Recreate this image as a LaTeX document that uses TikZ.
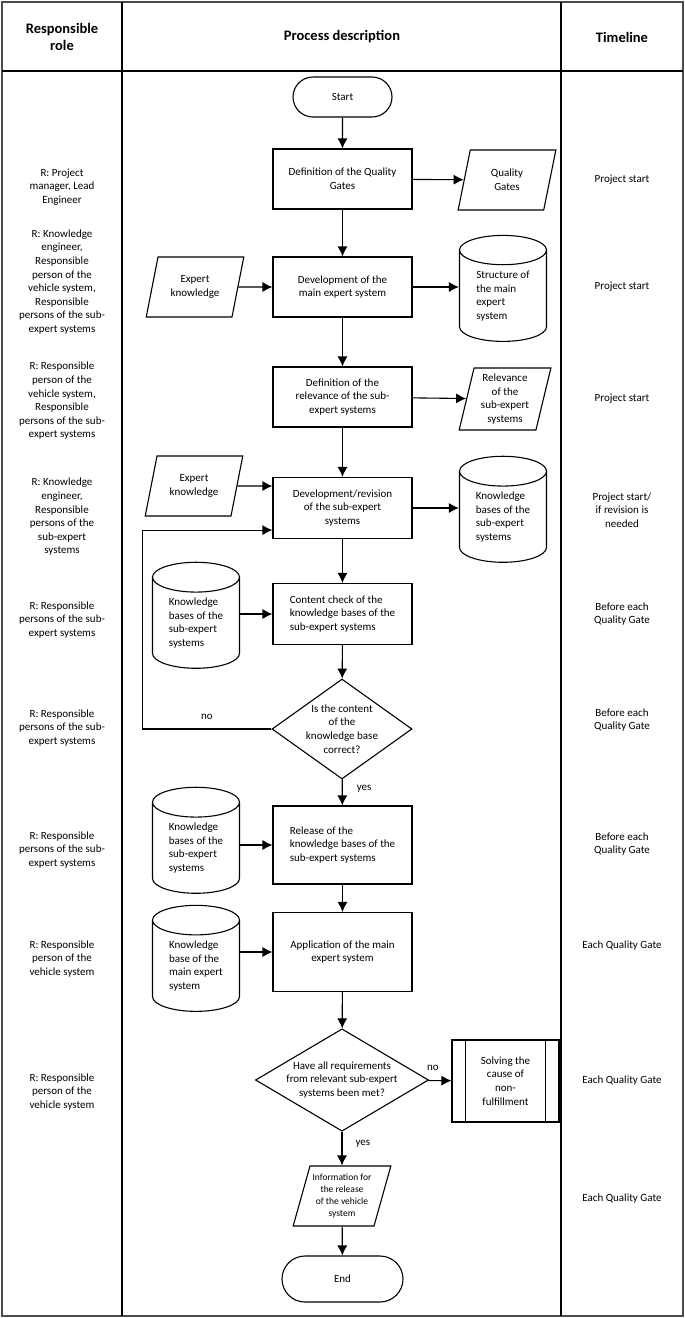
\documentclass[tikz,border=0pt]{standalone}
\usepackage{fontspec}
\setmainfont{Carlito}
\usetikzlibrary{positioning, calc, arrows.meta, shapes.geometric, shapes.misc}

\begin{document}
\begin{tikzpicture}
	[   x=1pt, y=-1pt, line width=1.1pt,
		every node/.style={font=\fontsize{11}{13.6}\selectfont, inner sep=0pt},
		head/.style={font=\bfseries\fontsize{14.5}{17}\selectfont, align=center},
		lane/.style={align=center},
		pbox/.style={draw, rectangle, minimum width=139pt, minimum height=60pt, align=center},
		term/.style={draw, rounded rectangle},
		dataio/.style={draw, trapezium, trapezium stretches=true, trapezium left angle=#1, trapezium right angle={180-#1}, minimum width=98pt, minimum height=60pt, align=center},
		store/.style={draw, cylinder, shape border rotate=90, aspect=0.55, minimum width=87pt, minimum height=106pt, align=left},
		decision/.style={draw, diamond, aspect=1.4, minimum width=140pt, minimum height=100pt, align=center},
		subproc/.style={draw, rectangle, minimum width=107pt, minimum height=82pt, align=center,
			path picture={
				\draw ([xshift=13.5pt]path picture bounding box.north west) -- ([xshift=13.5pt]path picture bounding box.south west);
				\draw ([xshift=-13.5pt]path picture bounding box.north east) -- ([xshift=-13.5pt]path picture bounding box.south east);
			}},
	]
	\tikzset{normal arrow/.style={draw, -{Latex[length=10pt, width=10pt]}}}
	\useasboundingbox (0,0) rectangle (685,1318);

	% table
	\draw[line width=1.6pt, black!70] (2,2) rectangle (683,1316);
	\draw (122,2) -- (122,1316);
	\draw (561,2) -- (561,1316);
	\draw (2,71) -- (683,71);

	\node[head] (h-1) at (62,37) {Responsible\\role};
	\node[head] (h-2) at (342,37) {Process description};
	\node[head] (h-3) at (622,37) {Timeline};

	% responsible role
	\node[lane] (role-1) at (62,187) {R: Project\\manager, Lead\\Engineer};
	\node[lane] (role-2) at (62,282) {R: Knowledge\\engineer,\\Responsible\\person of the\\vehicle system,\\Responsible\\persons of the sub-\\expert systems};
	\node[lane] (role-3) at (62,401) {R: Responsible\\person of the\\vehicle system,\\Responsible\\persons of the sub-\\expert systems};
	\node[lane] (role-4) at (62,517) {R: Knowledge\\engineer,\\Responsible\\persons of the\\sub-expert\\systems};
	\node[lane] (role-5) at (62,620) {R: Responsible\\persons of the sub-\\expert systems};
	\node[lane] (role-6) at (62,728) {R: Responsible\\persons of the sub-\\expert systems};
	\node[lane] (role-7) at (62,850) {R: Responsible\\persons of the sub-\\expert systems};
	\node[lane] (role-8) at (62,959) {R: Responsible\\person of the\\vehicle system};
	\node[lane] (role-9) at (62,1092) {R: Responsible\\person of the\\vehicle system};

	% timeline
	\node[lane] (tl-1) at (622,180) {Project start};
	\node[lane] (tl-2) at (622,287) {Project start};
	\node[lane] (tl-3) at (622,399) {Project start};
	\node[lane] (tl-4) at (622,510) {Project start/\\if revision is\\needed};
	\node[lane] (tl-5) at (622,614) {Before each\\Quality Gate};
	\node[lane] (tl-6) at (622,720) {Before each\\Quality Gate};
	\node[lane] (tl-7) at (622,844) {Before each\\Quality Gate};
	\node[lane] (tl-8) at (622,946) {Each Quality Gate};
	\node[lane] (tl-9) at (622,1081) {Each Quality Gate};
	\node[lane] (tl-10) at (622,1199) {Each Quality Gate};

	% process
	\node[term, minimum width=99pt, minimum height=40pt] (start) at (342.5,97) {Start};
	\node[pbox] (qgdef) at (342.5,179) {Definition of the Quality\\Gates};
	\node[dataio=76] (qg) at (507,180) {Quality\\Gates};
	\node[pbox] (mesdev) at (342.5,287) {Development of the\\main expert system};
	\node[dataio=71] (expk-1) at (195,287) {Expert\\knowledge};
	\node[store] (messtruct) at (503,296) {Structure of\\the main\\expert\\system};
	\node[pbox] (reldef) at (342.5,397) {Definition of the\\relevance of the sub-\\expert systems};
	\node[dataio=77, minimum width=92pt, minimum height=62pt] (rel) at (505,399) {Relevance\\of the\\sub-expert\\systems};
	\node[pbox, minimum height=61pt] (subdev) at (342.5,508) {Development/revision\\of the sub-expert\\systems};
	\node[dataio=71] (expk-2) at (194,486) {Expert\\knowledge};
	\node[store] (kb-1) at (503,517) {Knowledge\\bases of the\\sub-expert\\systems};
	\node[pbox, minimum height=61pt, align=left] (check) at (342.5,614) {Content check of the\\knowledge bases of the\\sub-expert systems};
	\node[store] (kb-2) at (196,623) {Knowledge\\bases of the\\sub-expert\\systems};
	\node[decision] (dec-1) at (342,729) {Is the content\\of the\\knowledge base\\correct?};
	\node[pbox, minimum height=78pt, align=left] (release) at (342.5,845) {Release of the\\knowledge bases of the\\sub-expert systems};
	\node[store] (kb-3) at (196,848) {Knowledge\\bases of the\\sub-expert\\systems};
	\node[pbox, minimum height=79pt] (apply) at (342.5,952) {Application of the main\\expert system};
	\node[store] (kb-4) at (196,966) {Knowledge\\base of the\\main expert\\system};
	\node[decision, minimum width=172pt, minimum height=102pt, aspect=1.69] (dec-2) at (342,1080) {Have all requirements\\from relevant sub-expert\\systems been met?};
	\node[subproc] (solve) at (505.5,1081) {Solving the\\cause of\\non-\\fulfillment};
	\node[dataio=71, font=\fontsize{9.5}{12.3}\selectfont] (info) at (342,1196) {Information for\\the release\\of the vehicle\\system};
	\node[term, minimum width=121pt, minimum height=46pt] (end) at (342.5,1279) {End};

	% main flow
	\foreach \a/\b in {start/qgdef, qgdef/mesdev, mesdev/reldef, reldef/subdev, subdev/check, check/dec-1, release/apply, apply/dec-2, info/end}
	{
		\path[normal arrow] (\a) -- (\b);
	}
	\path[normal arrow] (dec-1) -- node[right=14pt, pos=0.37] {yes} (release);
	\path[normal arrow] (dec-2) -- node[right=13pt, pos=0.36] {yes} (info);
	\path[normal arrow] (dec-2) -- node[above=9pt, pos=0.2] {no} (solve);
	\path[normal arrow] (dec-1.west) -- node[above=9pt] {no} ++(-129,0) |- ([yshift=9pt]subdev.south west);

	% inputs and outputs
	\path[normal arrow] (qgdef) -- (qg);
	\path[normal arrow] (reldef) -- (rel);
	\path[normal arrow] (expk-1) -- (expk-1 -| mesdev.west);
	\path[normal arrow] (mesdev.east) -- (mesdev.east -| messtruct.west);
	\path[normal arrow] (expk-2) -- (expk-2 -| subdev.west);
	\path[normal arrow] (subdev.east) -- (subdev.east -| kb-1.west);
	\path[normal arrow] (kb-2.east |- check) -- (check.west);
	\path[normal arrow] (kb-3.east |- release) -- (release.west);
	\path[normal arrow] (kb-4.east |- apply) -- (apply.west);
\end{tikzpicture}
\end{document}
